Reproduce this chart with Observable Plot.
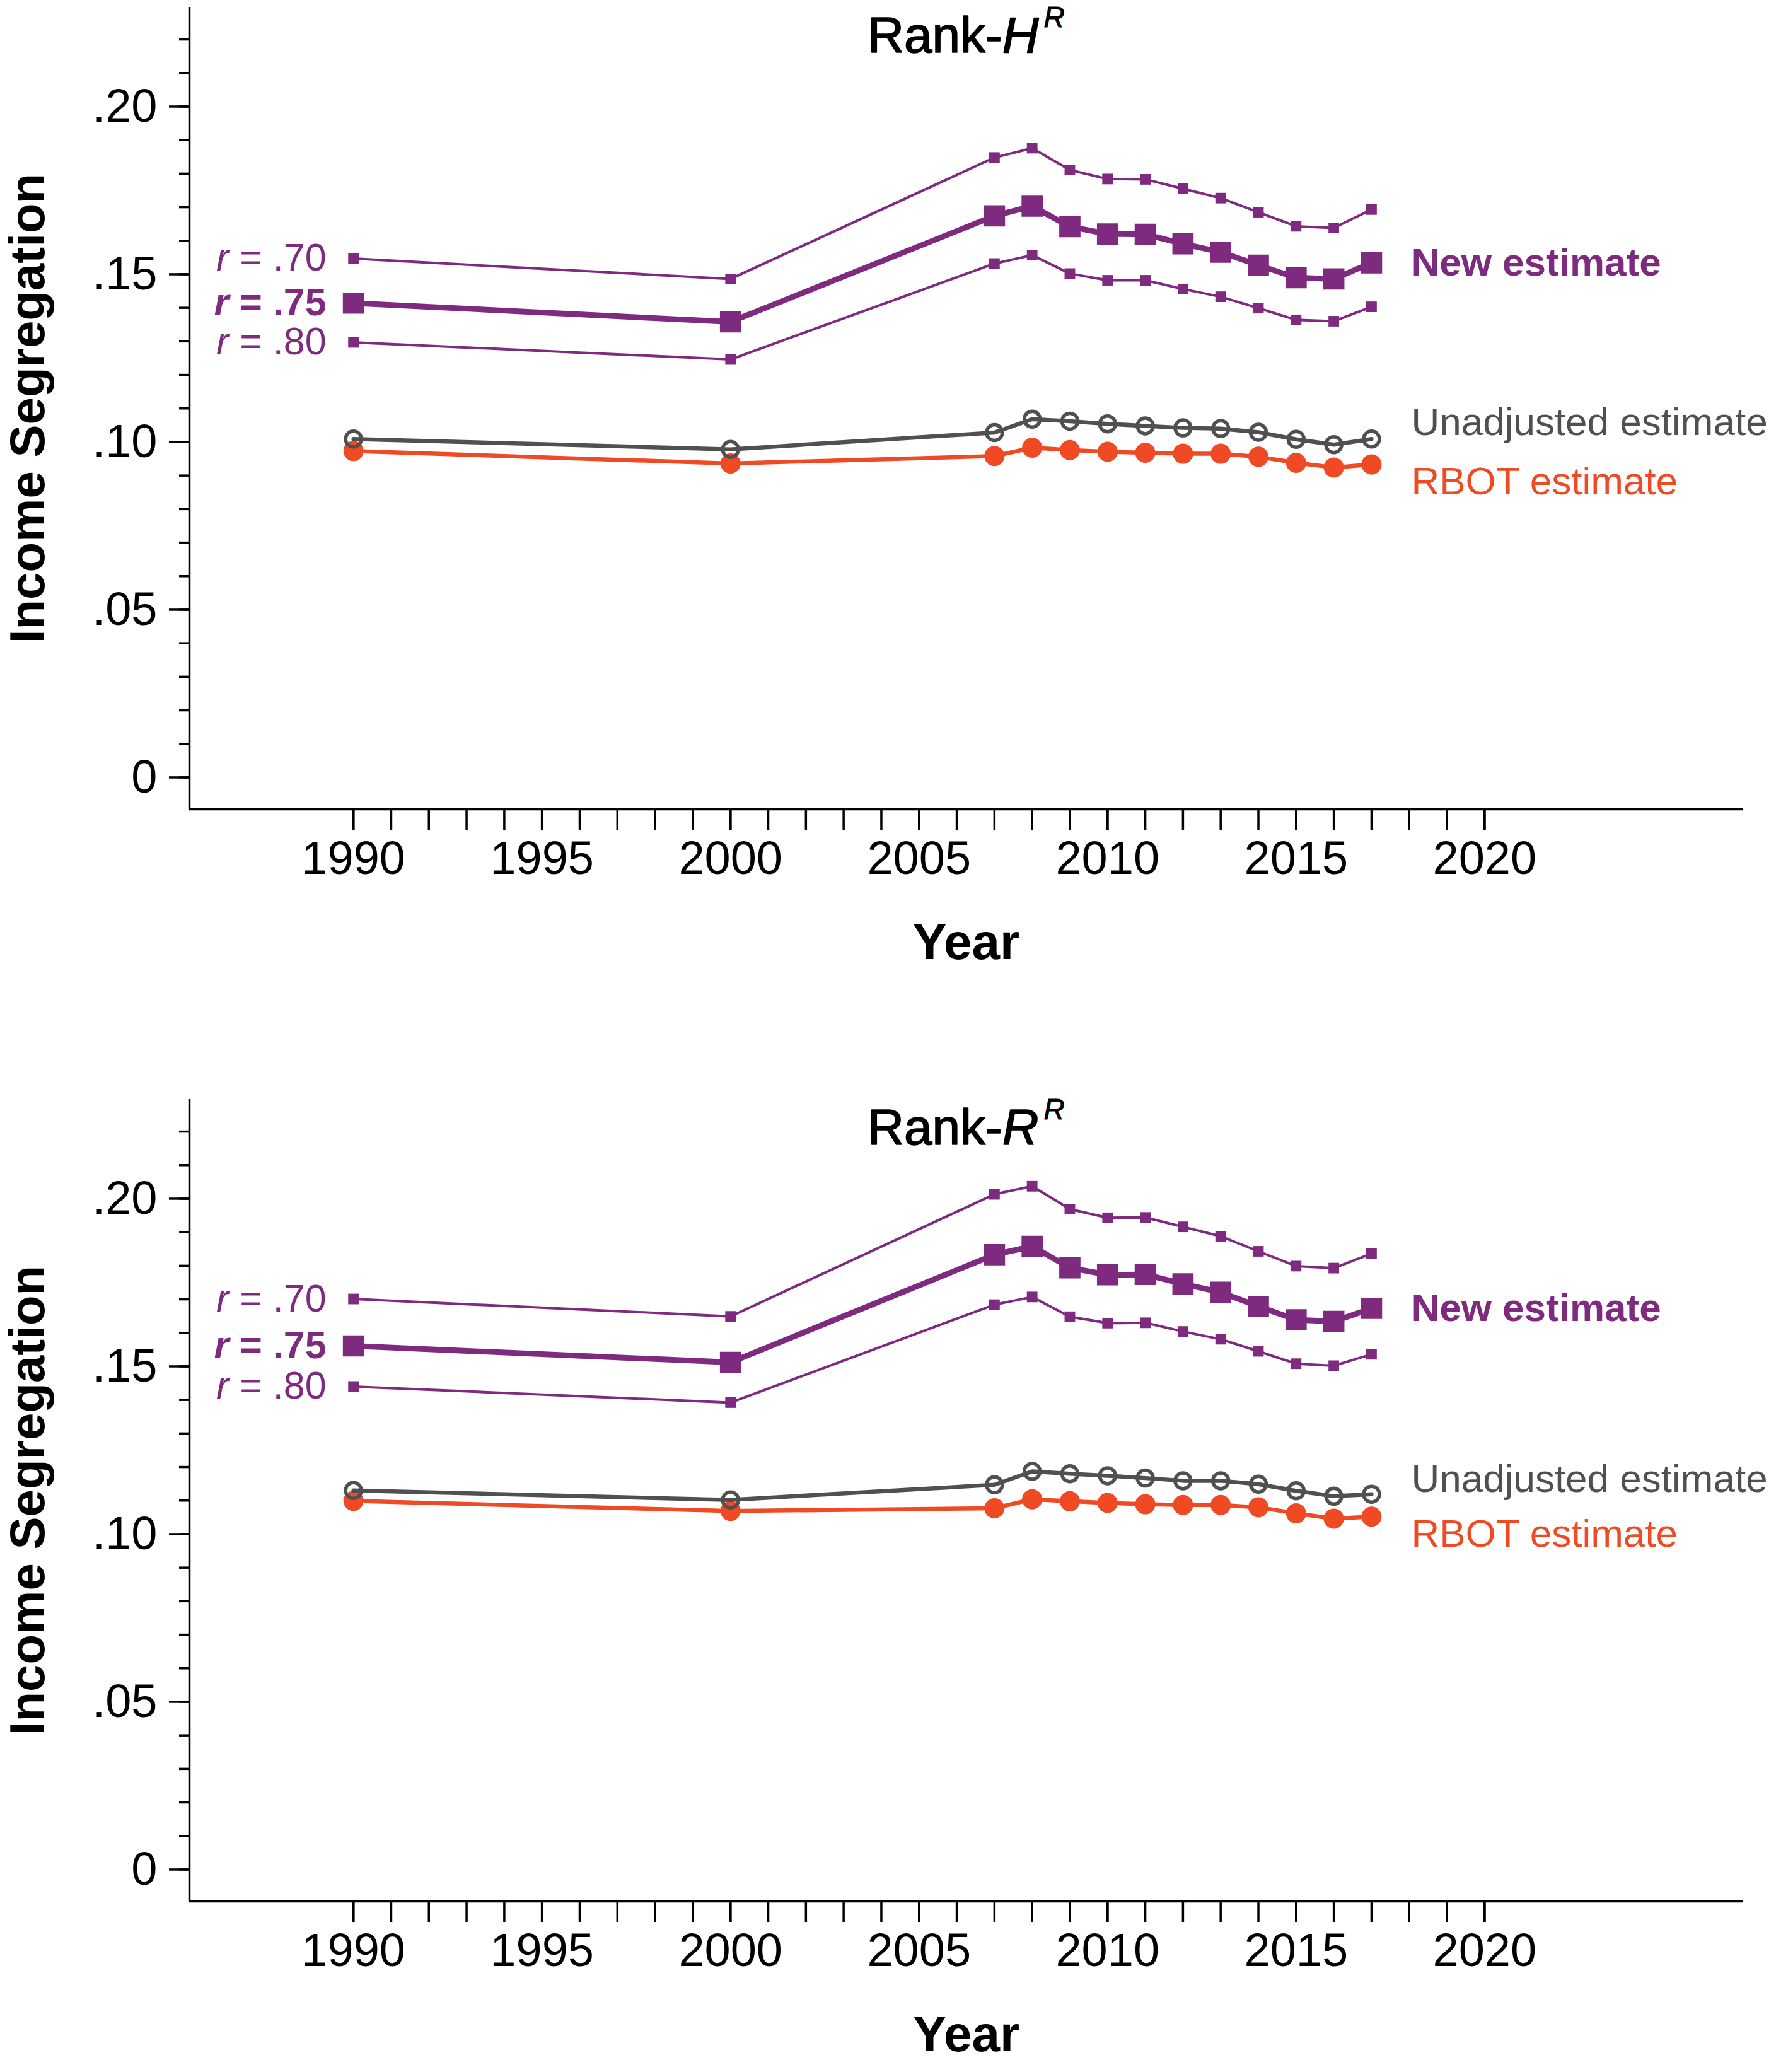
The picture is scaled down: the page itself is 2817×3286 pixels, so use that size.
<!DOCTYPE html>
<html>
<head>
<meta charset="utf-8">
<script src="https://cdn.jsdelivr.net/npm/d3@7"></script>
<script src="https://cdn.jsdelivr.net/npm/@observablehq/plot@0.6"></script>
<style>
  html, body { margin: 0; padding: 0; background: #fff; overflow: hidden; }
  svg { display: block; }
</style>
</head>
<body>
<div id="chart"></div>
<script>
// ---------- data ----------
const years = [1990, 2000, 2007, 2008, 2009, 2010, 2011, 2012, 2013, 2014, 2015, 2016, 2017];

// Rank-H^R panel
const hR70   = [0.1547, 0.1486, 0.1848, 0.1876, 0.1811, 0.1784, 0.1783, 0.1755, 0.1727, 0.1685, 0.1643, 0.1638, 0.1693];
const hR75   = [0.1414, 0.1358, 0.1674, 0.1703, 0.1642, 0.1620, 0.1619, 0.1591, 0.1566, 0.1527, 0.1490, 0.1486, 0.1534];
const hR80   = [0.1297, 0.1246, 0.1532, 0.1557, 0.1502, 0.1482, 0.1482, 0.1456, 0.1433, 0.1399, 0.1364, 0.1360, 0.1403];
const hUnadj = [0.1009, 0.0978, 0.1028, 0.1068, 0.1062, 0.1054, 0.1048, 0.1042, 0.1040, 0.1029, 0.1008, 0.0992, 0.1009];
const hRbot  = [0.0973, 0.0936, 0.0958, 0.0983, 0.0976, 0.0971, 0.0968, 0.0965, 0.0965, 0.0956, 0.0938, 0.0924, 0.0933];

// Rank-R^R panel
const rR70   = [0.1701, 0.1649, 0.2013, 0.2037, 0.1969, 0.1943, 0.1944, 0.1916, 0.1888, 0.1843, 0.1799, 0.1793, 0.1836];
const rR75   = [0.1561, 0.1512, 0.1833, 0.1858, 0.1794, 0.1773, 0.1774, 0.1746, 0.1721, 0.1679, 0.1639, 0.1634, 0.1673];
const rR80   = [0.1440, 0.1392, 0.1684, 0.1707, 0.1648, 0.1629, 0.1630, 0.1604, 0.1581, 0.1545, 0.1508, 0.1502, 0.1536];
const rUnadj = [0.1130, 0.1102, 0.1147, 0.1187, 0.1180, 0.1174, 0.1167, 0.1159, 0.1159, 0.1149, 0.1129, 0.1113, 0.1119];
const rRbot  = [0.1099, 0.1069, 0.1077, 0.1104, 0.1098, 0.1093, 0.1089, 0.1087, 0.1087, 0.1080, 0.1062, 0.1046, 0.1052];

// labels
const rLabels = ["r = .70", "r = .75", "r = .80"];
const seriesLabels = ["New estimate", "Unadjusted estimate", "RBOT estimate"];
const panelTitles = [["Rank-", "H", "R"], ["Rank-", "R", "R"]];
// vertical positions (data units) of the right-hand labels for unadjusted / RBOT
const unadjLabelY = [0.1057, 0.1164];
const rbotLabelY  = [0.0881, 0.0999];

// axis ticks
const xMajor = [1990, 1995, 2000, 2005, 2010, 2015, 2020];
const xMinor = d3.range(1990, 2021);
const yMajor = [0, 0.05, 0.10, 0.15, 0.20];
const yMinor = d3.range(0, 23).map(i => i / 100);
const xDomain = [1985.65, 2026.85];
const yDomain = [-0.0095, 0.2296];

// ---------- style ----------
const FONT = '"Liberation Sans", Arial, Helvetica, sans-serif';
const PURPLE = "#7E2A7F";
const ORANGE = "#EF4A24";
const GRAY = "#505050";
const AXW = 3.5;

const fmtY = d => d === 0 ? "0" : d3.format(".2f")(d).replace(/^0/, "");
const rows = vals => years.map((year, i) => ({year, value: vals[i]}));

function panel(idx, height, marginBottom, s70, s75, s80, sUn, sRb) {
  const last = years.length - 1;
  const t = panelTitles[idx];
  const titleText = t[0] + t[1] + "^" + t[2];
  const svg = Plot.plot({
    width: 2817,
    height,
    marginLeft: 300,
    marginRight: 53,
    marginTop: 11,
    marginBottom,
    x: {domain: xDomain},
    y: {domain: yDomain},
    style: {fontFamily: FONT, fontSize: "74px", color: "#000", background: "#fff", overflow: "visible"},
    marks: [
      // axes
      Plot.axisY(yMinor, {tickSize: 16, strokeWidth: AXW, fill: "none", label: null, tickFormat: () => ""}),
      Plot.axisY(yMajor, {tickSize: 32, strokeWidth: AXW, tickPadding: 19, tickFormat: fmtY, label: null}),
      Plot.axisX(xMinor, {tickSize: 33, strokeWidth: AXW, fill: "none", label: null, tickFormat: () => ""}),
      Plot.axisX(xMajor, {tickSize: 33, strokeWidth: AXW, tickPadding: 17, tickFormat: d => String(d), label: null}),
      Plot.ruleX([xDomain[0]], {strokeWidth: AXW}),
      Plot.ruleY([yDomain[0]], {strokeWidth: AXW}),

      // RBOT
      Plot.line(rows(sRb), {x: "year", y: "value", stroke: ORANGE, strokeWidth: 6.5}),
      Plot.dot(rows(sRb), {x: "year", y: "value", r: 16, fill: ORANGE}),
      // Unadjusted
      Plot.line(rows(sUn), {x: "year", y: "value", stroke: GRAY, strokeWidth: 6.5}),
      Plot.dot(rows(sUn), {x: "year", y: "value", r: 12.5, fill: "none", stroke: GRAY, strokeWidth: 5.5}),
      // New estimate bands
      Plot.line(rows(s70), {x: "year", y: "value", stroke: PURPLE, strokeWidth: 4}),
      Plot.dot(rows(s70), {x: "year", y: "value", symbol: "square", r: 9.5, fill: PURPLE}),
      Plot.line(rows(s80), {x: "year", y: "value", stroke: PURPLE, strokeWidth: 4}),
      Plot.dot(rows(s80), {x: "year", y: "value", symbol: "square", r: 9.5, fill: PURPLE}),
      Plot.line(rows(s75), {x: "year", y: "value", stroke: PURPLE, strokeWidth: 9}),
      Plot.dot(rows(s75), {x: "year", y: "value", symbol: "square", r: 19, fill: PURPLE}),

      // r labels at the left
      Plot.text([{year: years[0], value: s70[0], label: rLabels[0]}], {x: "year", y: "value", text: "label", textAnchor: "end", dx: -43, fill: PURPLE, fontSize: 61}),
      Plot.text([{year: years[0], value: s75[0], label: rLabels[1]}], {x: "year", y: "value", text: "label", textAnchor: "end", dx: -43, fill: PURPLE, fontSize: 61, fontWeight: "bold"}),
      Plot.text([{year: years[0], value: s80[0], label: rLabels[2]}], {x: "year", y: "value", text: "label", textAnchor: "end", dx: -43, fill: PURPLE, fontSize: 61}),

      // series labels on the right
      Plot.text([{year: years[last], value: s75[last], label: seriesLabels[0]}], {x: "year", y: "value", text: "label", textAnchor: "start", dx: 63, fill: PURPLE, fontSize: 62, fontWeight: "bold"}),
      Plot.text([{year: years[last], value: unadjLabelY[idx], label: seriesLabels[1]}], {x: "year", y: "value", text: "label", textAnchor: "start", dx: 63, fill: GRAY, fontSize: 62}),
      Plot.text([{year: years[last], value: rbotLabelY[idx], label: seriesLabels[2]}], {x: "year", y: "value", text: "label", textAnchor: "start", dx: 63, fill: ORANGE, fontSize: 62}),

      // panel title
      Plot.text([titleText], {frameAnchor: "top", lineAnchor: "bottom", textAnchor: "middle", dy: 71, fontSize: 80, fill: "#000", stroke: "#000", strokeWidth: 1.6}),
      // axis titles
      Plot.text(["Income Segregation"], {frameAnchor: "left", rotate: -90, textAnchor: "middle", lineAnchor: "bottom", dx: -231, fontSize: 78, fontWeight: "bold", fill: "#000"}),
      Plot.text(["Year"], {frameAnchor: "bottom", textAnchor: "middle", lineAnchor: "bottom", dy: 237, fontSize: 80, fontWeight: "bold", fill: "#000"})
    ]
  });

  // rich text: italic r, italic H/R with superscript
  d3.select(svg).selectAll("text").each(function () {
    const txt = this.textContent;
    const el = d3.select(this);
    if (rLabels.includes(txt)) {
      el.text(null).style("white-space", "pre");
      el.append("tspan").attr("font-style", "italic").text(txt.slice(0, 1));
      el.append("tspan").text(txt.slice(1));
    } else if (txt === titleText) {
      el.text(null);
      el.append("tspan").text(t[0]);
      el.append("tspan").attr("font-style", "italic").text(t[1]);
      el.append("tspan").attr("font-style", "italic").attr("font-size", 46).attr("dx", 8).attr("dy", -40).attr("stroke-width", 1).text(t[2]);
    }
  });
  return svg;
}

const chart = document.getElementById("chart");
chart.appendChild(panel(0, 1732, 449, hR70, hR75, hR80, hUnadj, hRbot));
chart.appendChild(panel(1, 1554, 271, rR70, rR75, rR80, rUnadj, rRbot));
</script>
</body>
</html>
